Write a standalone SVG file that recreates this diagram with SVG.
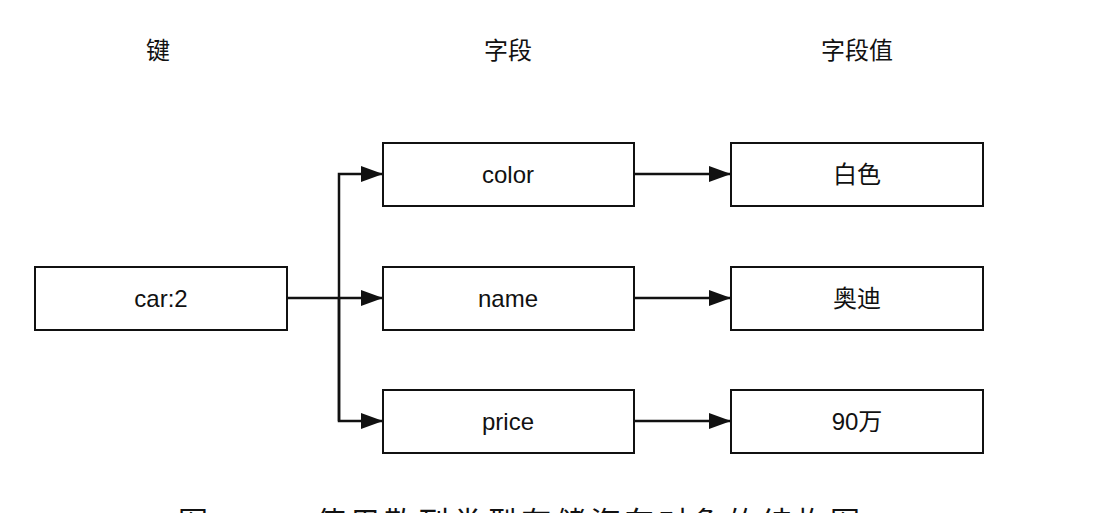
<svg xmlns="http://www.w3.org/2000/svg" width="1099" height="513" viewBox="0 0 1099 513">
<style>
rect{fill:#fff;stroke:#111;stroke-width:2}
text{font-family:"Liberation Sans","Noto Sans CJK SC",sans-serif;font-size:24px;fill:#111;text-anchor:middle;dominant-baseline:central}
.c path{fill:none;stroke:#111;stroke-width:2.5}
</style>
<defs>
<marker id="b" markerWidth="22" markerHeight="16" refX="22" refY="8" orient="auto" markerUnits="userSpaceOnUse"><path d="M0,0L22,8L0,16Z" fill="#111"/></marker></defs>
<rect width="1099" height="513" style="stroke:none"/>
<text x="158" y="50">键</text><text x="508" y="50">字段</text><text x="857" y="50">字段值</text>
<g class="c">
<path d="M287,298H383" marker-end="url(#b)"/>
<path d="M339,421V174H383" marker-end="url(#b)"/>
<path d="M339,298V421H383" marker-end="url(#b)"/>
<path d="M634,174H731" marker-end="url(#b)"/>
<path d="M634,298H731" marker-end="url(#b)"/>
<path d="M634,421H731" marker-end="url(#b)"/>
</g>
<g id="car"><rect x="35" y="267" width="252" height="63"/><text x="161" y="298">car:2</text></g>
<g id="color"><rect x="383" y="143" width="251" height="63"/><text x="508" y="174">color</text></g>
<g id="name"><rect x="383" y="267" width="251" height="63"/><text x="508" y="298">name</text></g>
<g id="price"><rect x="383" y="390" width="251" height="63"/><text x="508" y="421">price</text></g>
<g id="v1"><rect x="731" y="143" width="252" height="63"/><text x="857" y="174">白色</text></g>
<g id="v2"><rect x="731" y="267" width="252" height="63"/><text x="857" y="298">奥迪</text></g>
<g id="v3"><rect x="731" y="390" width="252" height="63"/><text x="857" y="421">90万</text></g>
<text x="178" y="522" style="font-size:30px;text-anchor:start" textLength="682">图 3-6　使用散列类型存储汽车对象的结构图</text>
</svg>
